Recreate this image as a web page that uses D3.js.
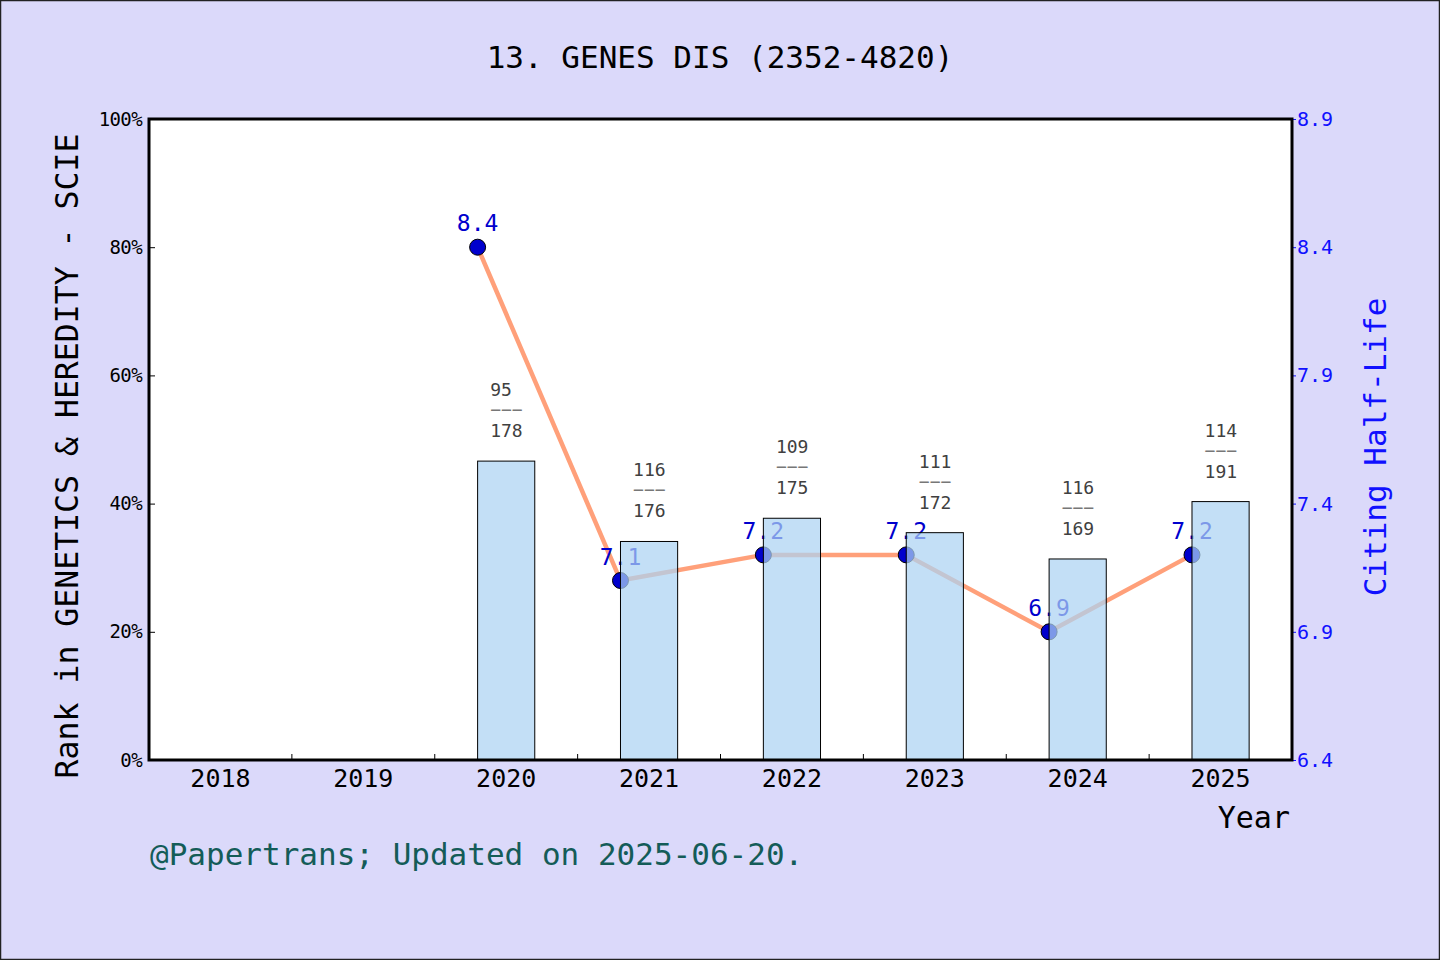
<!DOCTYPE html>
<html>
<head>
<meta charset="utf-8">
<script src="https://cdn.jsdelivr.net/npm/d3@7"></script>
<style>
  html, body { margin: 0; padding: 0; background: #dbd9fa; }
  svg { display: block; }
  text { font-family: "DejaVu Sans Mono", monospace; }
</style>
</head>
<body>
<div id="svg-wrap"></div>
<script>
var width = 1440;
var height = 960;

// data
var years = ['2018', '2019', '2020', '2021', '2022', '2023', '2024', '2025'];
var ranks = [null, null, 95, 116, 109, 111, 116, 114];
var totals = [null, null, 178, 176, 175, 172, 169, 191];
var halfLife = [null, null, 8.4, 7.1, 7.2, 7.2, 6.9, 7.2];
var leftTicks = [0, 20, 40, 60, 80, 100];
var rightTicks = [6.4, 6.9, 7.4, 7.9, 8.4, 8.9];

// plot box (note: "top" is taken by window.top)
var pLeft = 149, pRight = 1292, pTop = 119, pBottom = 760;

var svg = d3.select('#svg-wrap').append('svg')
  .attr('width', width)
  .attr('height', height)
  .attr('viewBox', [0, 0, width, height]);

svg.append('rect')
  .attr('x', 0.5).attr('y', 0.5)
  .attr('width', width - 1).attr('height', height - 1)
  .attr('fill', '#dbd9fa')
  .attr('stroke', '#222')
  .attr('stroke-width', 1.5);

var x = d3.scaleBand().domain(years).range([pLeft, pRight]).padding(0);
var yL = d3.scaleLinear().domain([0, 100]).range([pBottom, pTop]);
var yR = d3.scaleLinear().domain([6.4, 8.9]).range([pBottom, pTop]);
var bw = x.bandwidth();

// plot background
svg.append('rect')
  .attr('x', pLeft).attr('y', pTop)
  .attr('width', pRight - pLeft).attr('height', pBottom - pTop)
  .attr('fill', '#fff');

// title
svg.append('text')
  .attr('x', 720).attr('y', 68)
  .attr('text-anchor', 'middle')
  .attr('font-size', 31)
  .attr('fill', '#000')
  .text('13. GENES DIS (2352-4820)');

// left axis
var axL = svg.append('g')
  .attr('transform', `translate(${pLeft},0)`)
  .call(d3.axisLeft(yL).tickValues(leftTicks).tickFormat(d => d + '%').tickSize(-6).tickPadding(7));
axL.select('.domain').remove();
axL.selectAll('text').attr('font-size', 19).attr('fill', '#000')
  .attr('letter-spacing', -0.6);
axL.selectAll('line').attr('stroke', '#000');

// right axis
var axR = svg.append('g')
  .attr('transform', `translate(${pRight},0)`)
  .call(d3.axisRight(yR).tickValues(rightTicks).tickFormat(d3.format('.1f')).tickSize(4).tickPadding(1));
axR.select('.domain').remove();
axR.selectAll('text').attr('font-size', 20).attr('fill', '#1010ff');
axR.selectAll('line').attr('stroke', '#1010ff');

// bottom ticks between years
var between = years.slice(1).map(d => x(d));
svg.append('g').selectAll('line')
  .data(between)
  .join('line')
    .attr('x1', d => d).attr('x2', d => d)
    .attr('y1', pBottom).attr('y2', pBottom - 6)
    .attr('stroke', '#000');

svg.append('g').selectAll('text')
  .data(years)
  .join('text')
    .attr('x', d => x(d) + bw / 2)
    .attr('y', 787)
    .attr('text-anchor', 'middle')
    .attr('font-size', 25)
    .attr('fill', '#000')
    .text(d => d);

// axis titles
svg.append('text')
  .attr('transform', 'translate(78,456) rotate(-90)')
  .attr('text-anchor', 'middle')
  .attr('font-size', 31.5)
  .attr('fill', '#000')
  .text('Rank in GENETICS & HEREDITY - SCIE');

svg.append('text')
  .attr('transform', 'translate(1386,447) rotate(-90)')
  .attr('text-anchor', 'middle')
  .attr('font-size', 31)
  .attr('fill', '#1010ff')
  .text('Citing Half-Life');

svg.append('text')
  .attr('x', 1290).attr('y', 828)
  .attr('text-anchor', 'end')
  .attr('font-size', 30)
  .attr('fill', '#000')
  .text('Year');

svg.append('text')
  .attr('x', 150).attr('y', 865)
  .attr('font-size', 31)
  .attr('fill', '#145c58')
  .text('@Papertrans; Updated on 2025-06-20.');

// half-life line
var pts = years.map((d, i) => ({ year: d, v: halfLife[i] })).filter(d => d.v != null);
var line = d3.line()
  .x(d => x(d.year) + bw * 0.3)
  .y(d => yR(d.v));

svg.append('path')
  .datum(pts)
  .attr('d', line)
  .attr('fill', 'none')
  .attr('stroke', '#ffa07a')
  .attr('stroke-width', 4.5);

svg.append('g').selectAll('circle')
  .data(pts)
  .join('circle')
    .attr('cx', d => x(d.year) + bw * 0.3)
    .attr('cy', d => yR(d.v))
    .attr('r', 8)
    .attr('fill', '#0000cd')
    .attr('stroke', '#000')
    .attr('stroke-width', 1);

svg.append('g').selectAll('text')
  .data(pts)
  .join('text')
    .attr('x', d => x(d.year) + bw * 0.3)
    .attr('y', d => yR(d.v) - 16)
    .attr('text-anchor', 'middle')
    .attr('font-size', 23)
    .attr('fill', '#0000cd')
    .text(d => d.v.toFixed(1));

// rank bars, share of journals ranked below
var bars = years.map((d, i) => ({ year: d, rank: ranks[i], total: totals[i] }))
  .filter(d => d.rank != null);
bars.forEach(d => { d.pct = (d.total - d.rank) / d.total * 100; });

svg.append('g').selectAll('rect')
  .data(bars)
  .join('rect')
    .attr('x', d => x(d.year) + bw * 0.3)
    .attr('y', d => yL(d.pct))
    .attr('width', bw * 0.4)
    .attr('height', d => yL(0) - yL(d.pct))
    .attr('fill', 'rgba(172,210,243,0.72)')
    .attr('stroke', '#000')
    .attr('stroke-width', 1);

var frac = svg.append('g').selectAll('g')
  .data(bars)
  .join('g')
    .attr('transform', d => `translate(${x(d.year) + bw / 2 - 16},${yL(d.pct) - 24})`)
    .attr('font-size', 18)
    .attr('fill', '#404040');
frac.append('text').attr('y', -41).text(d => d.rank);
frac.append('text').attr('y', -21).attr('fill', '#777').text('−−−');
frac.append('text').attr('y', 0).text(d => d.total);

// frame
svg.append('rect')
  .attr('x', pLeft).attr('y', pTop)
  .attr('width', pRight - pLeft).attr('height', pBottom - pTop)
  .attr('fill', 'none')
  .attr('stroke', '#000')
  .attr('stroke-width', 3);
</script>
</body>
</html>
